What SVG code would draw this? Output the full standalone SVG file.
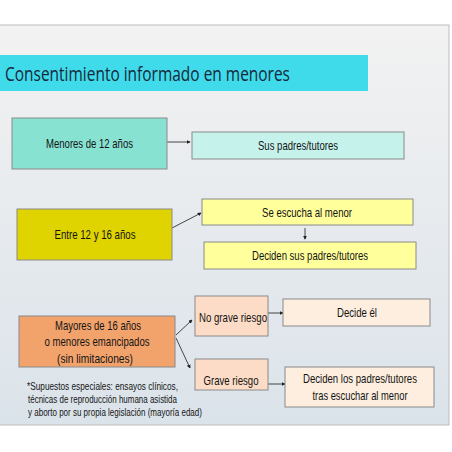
<svg xmlns="http://www.w3.org/2000/svg" width="452" height="452" viewBox="0 0 452 452">
<defs>
<linearGradient id="bg" x1="0" y1="0" x2="0" y2="1">
<stop offset="0" stop-color="#f2f2f2"/>
<stop offset="1" stop-color="#dbe3ea"/>
</linearGradient>
<marker id="ah" viewBox="0 0 6 6" refX="5" refY="3" markerWidth="4" markerHeight="4" orient="auto">
<path d="M0,0 L6,3 L0,6 Z" fill="#222"/>
</marker>
<style>
.box{stroke:#8a8a8a;stroke-width:1}
.t{font-family:"Liberation Sans",Arial,sans-serif;font-size:13px;fill:#141414;text-anchor:middle}
.fn{font-family:"Liberation Sans",Arial,sans-serif;font-size:10.5px;fill:#141414}
.c{stroke:#444;stroke-width:1;fill:none;marker-end:url(#ah)}
</style>
</defs>
<rect x="0" y="0" width="452" height="452" fill="#ffffff"/>
<rect x="-1" y="25" width="450" height="400" fill="url(#bg)" stroke="#bdbdbd" stroke-width="1"/>
<g id="title">
<rect x="0" y="55" width="368" height="36" fill="#3fdbea"/>
<text x="5" y="81" font-family="'Open Sans','Noto Sans',sans-serif" font-size="20" fill="#17283a" textLength="285" lengthAdjust="spacingAndGlyphs">Consentimiento informado en menores</text>
</g>
<g id="connectors">
<line class="c" x1="165" y1="142" x2="190" y2="142"/>
<line class="c" x1="172" y1="228" x2="201" y2="213"/>
<line class="c" x1="305" y1="228" x2="305" y2="239"/>
<line class="c" x1="176" y1="335" x2="192" y2="320"/>
<line class="c" x1="176" y1="338" x2="190" y2="368"/>
<line class="c" x1="268" y1="313" x2="283" y2="313"/>
<line class="c" x1="268" y1="384" x2="285" y2="384"/>
</g>
<g id="menores12">
<rect class="box" x="12" y="118" width="155" height="51" fill="#88e2d2"/>
<text class="t" transform="translate(89.5,148) scale(0.75,1)" textLength="116" lengthAdjust="spacingAndGlyphs">Menores de 12 años</text>
</g>
<g id="suspadres">
<rect class="box" x="192" y="132" width="212" height="27" fill="#c6f2ec"/>
<text class="t" transform="translate(298,150) scale(0.75,1)" textLength="106.7" lengthAdjust="spacingAndGlyphs">Sus padres/tutores</text>
</g>
<g id="entre12y16">
<rect class="box" x="17" y="209" width="155" height="51" fill="#dfd300"/>
<text class="t" transform="translate(95,239) scale(0.75,1)" textLength="108" lengthAdjust="spacingAndGlyphs">Entre 12 y 16 años</text>
</g>
<g id="seescucha">
<rect class="box" x="202" y="199" width="211" height="26" fill="#ffff9c"/>
<text class="t" transform="translate(307,217) scale(0.75,1)" textLength="120" lengthAdjust="spacingAndGlyphs">Se escucha al menor</text>
</g>
<g id="decidensus">
<rect class="box" x="204" y="242" width="212" height="27" fill="#ffff9c"/>
<text class="t" transform="translate(310,260) scale(0.75,1)" textLength="154.7" lengthAdjust="spacingAndGlyphs">Deciden sus padres/tutores</text>
</g>
<g id="mayores16">
<rect class="box" x="19" y="316" width="156" height="51" fill="#f2a36c"/>
<text class="t" transform="translate(98,330) scale(0.75,1)" textLength="114.7" lengthAdjust="spacingAndGlyphs">Mayores de 16 años</text>
<text class="t" transform="translate(97,346) scale(0.75,1)" textLength="140" lengthAdjust="spacingAndGlyphs">o menores emancipados</text>
<text class="t" transform="translate(95,363) scale(0.75,1)" textLength="101.3" lengthAdjust="spacingAndGlyphs">(sin limitaciones)</text>
</g>
<g id="nograve">
<rect class="box" x="195" y="296" width="73" height="40" fill="#fcdcc6"/>
<text class="t" transform="translate(233,322) scale(0.75,1)" textLength="90.7" lengthAdjust="spacingAndGlyphs">No grave riesgo</text>
</g>
<g id="decideel">
<rect class="box" x="283" y="299" width="147" height="27" fill="#fdeedf"/>
<text class="t" transform="translate(357,317) scale(0.75,1)" textLength="53.3" lengthAdjust="spacingAndGlyphs">Decide él</text>
</g>
<g id="grave">
<rect class="box" x="195" y="359" width="73" height="31" fill="#fcdcc6"/>
<text class="t" transform="translate(231,385) scale(0.75,1)" textLength="73.3" lengthAdjust="spacingAndGlyphs">Grave riesgo</text>
</g>
<g id="decidenlos">
<rect class="box" x="285" y="367" width="149" height="40" fill="#fdeedf"/>
<text class="t" transform="translate(360,383) scale(0.75,1)" textLength="152" lengthAdjust="spacingAndGlyphs">Deciden los padres/tutores</text>
<text class="t" transform="translate(360,400) scale(0.75,1)" textLength="126.7" lengthAdjust="spacingAndGlyphs">tras escuchar al menor</text>
</g>
<g id="footnote">
<text class="fn" transform="translate(27,390) scale(0.78,1)" textLength="193.6" lengthAdjust="spacingAndGlyphs">*Supuestos especiales: ensayos  clínicos,</text>
<text class="fn" transform="translate(28,403) scale(0.78,1)" textLength="191" lengthAdjust="spacingAndGlyphs">técnicas de reproducción humana asistida</text>
<text class="fn" transform="translate(28,416) scale(0.78,1)" textLength="223" lengthAdjust="spacingAndGlyphs">y aborto por su propia legislación (mayoría edad)</text>
</g>
</svg>
